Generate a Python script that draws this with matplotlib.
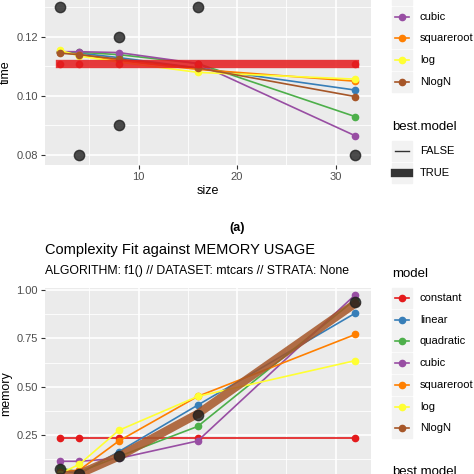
import numpy as np
import matplotlib.pyplot as plt
from matplotlib.lines import Line2D
from matplotlib.patches import Rectangle

plt.rcParams['font.family'] = ['Liberation Sans', 'DejaVu Sans']

W = 474
sizes = [2, 4, 8, 16, 32]
models = ['constant', 'linear', 'quadratic', 'cubic', 'squareroot', 'log', 'NlogN']
colors = ['#E41A1C', '#377EB8', '#4DAF4A', '#984EA3', '#FF7F00', '#FFFF33', '#A65628']

# time panel
time_fit = {
    'constant': [0.111, 0.111, 0.111, 0.111, 0.111],
    'linear': [0.115, 0.1145, 0.113, 0.1095, 0.102],
    'quadratic': [0.115, 0.1148, 0.114, 0.111, 0.093],
    'cubic': [0.115, 0.115, 0.1147, 0.111, 0.0865],
    'squareroot': [0.1148, 0.114, 0.112, 0.109, 0.105],
    'log': [0.1155, 0.1135, 0.1115, 0.108, 0.1057],
    'NlogN': [0.1145, 0.114, 0.1125, 0.1095, 0.0998],
}
time_best = 'constant'
time_obs_x = [2, 4, 8, 8, 16, 32]
time_obs_y = [0.13, 0.08, 0.12, 0.09, 0.13, 0.08]

# memory panel
mem_fit = {
    'constant': [0.235, 0.235, 0.235, 0.235, 0.235],
    'linear': [0.07, 0.05, 0.165, 0.405, 0.88],
    'quadratic': [0.08, 0.06, 0.14, 0.295, 0.95],
    'cubic': [0.115, 0.115, 0.13, 0.22, 0.975],
    'squareroot': [0.06, 0.07, 0.22, 0.45, 0.77],
    'log': [0.05, 0.10, 0.275, 0.45, 0.635],
    'NlogN': [0.04, 0.05, 0.14, 0.36, 0.93],
}
mem_best = 'NlogN'
mem_obs_x = [2, 4, 8, 16, 32]
mem_obs_y = [0.075, 0.05, 0.14, 0.355, 0.94]

fig = plt.figure(figsize=(4.74, 4.74), dpi=100)
GRID = 'white'
BG = '#EBEBEB'


def px(x, y):
    return x / W, 1 - y / W


def panel(top, bottom, ylim, yticks, yminor, fit, best, ox, oy, ylabel, xlabel, show_x):
    l, b = px(45, bottom)
    _, t = px(45, top)
    ax = fig.add_axes([l, b, 326 / W, t - b])
    ax.set_facecolor(BG)
    ax.set_xlim(0.5, 33.6)
    ax.set_ylim(*ylim)
    for v in [5, 15, 25]:
        ax.axvline(v, color=GRID, lw=0.6, zorder=0)
    for v in [10, 20, 30]:
        ax.axvline(v, color=GRID, lw=1.2, zorder=0)
    for v in yminor:
        ax.axhline(v, color=GRID, lw=0.6, zorder=0)
    for v in yticks:
        ax.axhline(v, color=GRID, lw=1.2, zorder=0)
    for s in ax.spines.values():
        s.set_visible(False)
    ax.set_xticks([10, 20, 30])
    ax.set_yticks(yticks)
    ax.set_yticklabels(['%.2f' % v for v in yticks])
    ax.tick_params(colors='#333333', labelcolor='#4D4D4D', labelsize=8, length=3, pad=2)
    if not show_x:
        ax.tick_params(axis='x', labelbottom=False)
    ax.set_ylabel(ylabel, fontsize=9, labelpad=3)
    if xlabel:
        ax.set_xlabel(xlabel, fontsize=9, labelpad=2)
    for m, c in zip(models, colors):
        lw = 6 if m == best else 1.2
        ax.plot(sizes, fit[m], color=c, lw=lw, marker='o', ms=4.5, alpha=0.85 if m == best else 1, zorder=3 if m == best else 2)
    ax.scatter(ox, oy, s=55, color='#202020', alpha=0.8, zorder=4)
    return ax


panel(-20, 165, (0.0766, 0.1393), [0.08, 0.10, 0.12], [0.09, 0.11, 0.13],
      time_fit, time_best, time_obs_x, time_obs_y, 'time', 'size', True)
panel(288, 500, (-0.085, 1.01), [0.25, 0.50, 0.75, 1.00], [0.125, 0.375, 0.625, 0.875],
      mem_fit, mem_best, mem_obs_x, mem_obs_y, 'memory', None, False)

fig.text(*px(237, 228), '(a)', ha='center', va='center', fontsize=9, fontweight='bold')
fig.text(*px(45, 250), 'Complexity Fit against MEMORY USAGE', ha='left', va='center', fontsize=10.5)
fig.text(*px(45, 271), 'ALGORITHM: f1() // DATASET: mtcars // STRATA: None', ha='left', va='center', fontsize=8.8)


def key(y, color, lw=1.2, marker='o'):
    x0, y0 = px(392, y + 10)
    fig.add_artist(Rectangle((x0, y0), 20 / W, 20 / W, transform=fig.transFigure, color='#F2F2F2', zorder=0))
    xa, ya = px(395, y)
    xb, _ = px(409, y)
    fig.add_artist(Line2D([xa, xb], [ya, ya], color=color, lw=lw, transform=fig.transFigure))
    if marker:
        fig.add_artist(Line2D([(xa + xb) / 2], [ya], color=color, marker='o', ms=4.5, transform=fig.transFigure))


def label(y, text, size=8, x=420):
    fig.text(*px(x, y), text, ha='left', va='center', fontsize=size)


# top legend (partly cut)
for i, m in enumerate(['quadratic', 'cubic', 'squareroot', 'log', 'NlogN']):
    y = -5 + i * 21.7
    key(y, colors[models.index(m)])
    label(y, m)
label(127, 'best.model', size=9.5, x=392)
key(151, '#333333', lw=1, marker=None)
label(151, 'FALSE')
key(173, '#333333', lw=6, marker=None)
label(173, 'TRUE')

# bottom legend
label(274, 'model', size=9.5, x=392)
for i, m in enumerate(models):
    y = 298 + i * 21.7
    key(y, colors[i])
    label(y, m)
label(472, 'best.model', size=9.5, x=392)

fig.savefig('out.png', dpi=100)
